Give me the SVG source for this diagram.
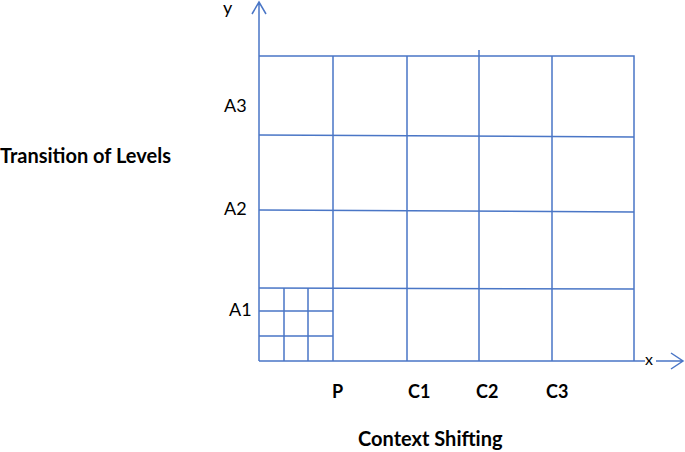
<svg xmlns="http://www.w3.org/2000/svg" width="685" height="452" viewBox="0 0 685 452">
<style>
.ln{stroke:#4a76c6;stroke-width:1.5;fill:none}
.lbl{font-family:Lato,"Open Sans","Liberation Sans",sans-serif;font-size:18px;fill:#000}
.b{font-weight:bold}
.big{font-size:20px}
</style>
<rect width="685" height="452" fill="#fff"/>
<g id="connectors">
<path class="ln" d="M259,361 V2 M252,14 L259,2 L266,14"/>
<path class="ln" d="M259,361 H645 M656,361 H683 M671,353 L683,361 L671,369"/>
</g>
<g id="grid">
<path class="ln" d="M259,56 H634 V361"/>
<path class="ln" d="M333,56 V361 M407,56 V361 M479,50 V361 M552,56 V361"/>
<path class="ln" d="M259,135 L634,137 M259,210 L634,212 M259,288 L634,289"/>
<path class="ln" d="M284,288 V361 M308,288 V361 M259,311 H333 M259,336 H333"/>
</g>
<g id="labels">
<text class="lbl" x="223" y="14">y</text>
<text class="lbl" x="224" y="112">A3</text>
<text class="lbl" x="224" y="215">A2</text>
<text class="lbl" x="229" y="316">A1</text>
<text class="lbl" x="645" y="365" style="font-size:16px">x</text>
<text class="lbl b big" x="0" y="163">Transition of Levels</text>
<text class="lbl b" x="332" y="398">P</text>
<text class="lbl b" x="408" y="398">C1</text>
<text class="lbl b" x="476" y="398">C2</text>
<text class="lbl b" x="546" y="398">C3</text>
<text class="lbl b big" x="358" y="446">Context Shifting</text>
</g>
</svg>
